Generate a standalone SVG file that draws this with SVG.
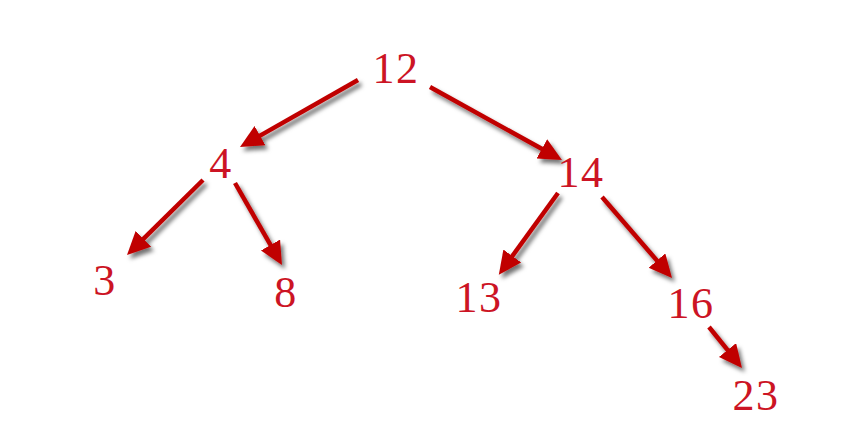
<svg xmlns="http://www.w3.org/2000/svg" width="860" height="425" viewBox="0 0 860 425">
  <style>
    .lbl { font-family: "Liberation Serif", "DejaVu Serif", serif; font-size: 44px; fill: #cc1424; text-anchor: middle; letter-spacing: 1.5px; }
    .edge { stroke: #c00000; stroke-width: 4.5; fill: none; marker-end: url(#head); }
  </style>
  <defs>
    <marker id="head" markerUnits="userSpaceOnUse" markerWidth="26" markerHeight="24" refX="6" refY="11" orient="auto">
      <path d="M0,0 L23,11 L0,22 z" fill="#c00000"/>
    </marker>
    <filter id="shadow" x="-20%" y="-20%" width="140%" height="140%">
      <feDropShadow dx="3" dy="4" stdDeviation="2" flood-color="#000" flood-opacity="0.55"/>
    </filter>
  </defs>
  <rect width="860" height="425" fill="#fff"/>
  <g id="connectors" filter="url(#shadow)">
    <line class="edge" x1="358" y1="80" x2="254.8" y2="138.6"/>
    <line class="edge" x1="430" y1="87" x2="547.1" y2="151.8"/>
    <line class="edge" x1="203" y1="180" x2="139.1" y2="243.1"/>
    <line class="edge" x1="235" y1="183" x2="273.5" y2="250.2"/>
    <line class="edge" x1="558" y1="193" x2="508.8" y2="260.9"/>
    <line class="edge" x1="602" y1="197" x2="660.9" y2="265.1"/>
    <line class="edge" x1="709" y1="327" x2="731.3" y2="354.7"/>
  </g>
  <g id="n12"><text class="lbl" x="396" y="83">12</text></g>
  <g id="n4"><text class="lbl" x="221" y="178">4</text></g>
  <g id="n14"><text class="lbl" x="581" y="187">14</text></g>
  <g id="n3"><text class="lbl" x="105" y="295">3</text></g>
  <g id="n8"><text class="lbl" x="286" y="307">8</text></g>
  <g id="n13"><text class="lbl" x="479" y="312">13</text></g>
  <g id="n16"><text class="lbl" x="691" y="318">16</text></g>
  <g id="n23"><text class="lbl" x="756" y="410">23</text></g>
</svg>
